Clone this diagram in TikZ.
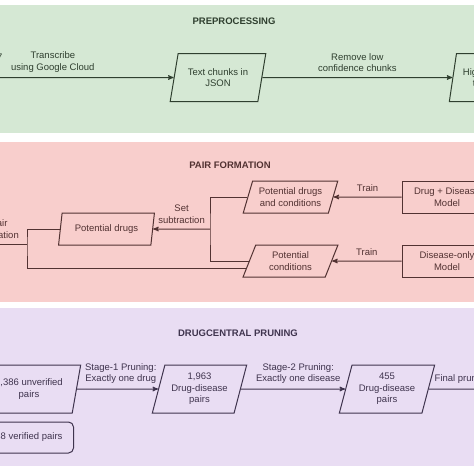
\documentclass[tikz,border=0pt]{standalone}
\usepackage{fontspec}
\setmainfont{Liberation Sans}
\usetikzlibrary{shapes, arrows, calc}

\definecolor{prefill}{HTML}{D5E8D4}
\definecolor{preline}{HTML}{2F3F2F}
\definecolor{pairfill}{HTML}{F8CECC}
\definecolor{pairline}{HTML}{523232}
\definecolor{prunefill}{HTML}{E9DDF3}
\definecolor{pruneline}{HTML}{3F344E}

\begin{document}
\begin{tikzpicture}[x=1pt, y=-1pt, >=stealth', line width=1pt,
      every node/.style={font=\fontsize{9.5}{11.5}\selectfont},
      para/.style={trapezium, trapezium left angle=72, trapezium right angle=108,
        trapezium stretches=true, draw, align=center, inner sep=0pt,
        minimum width=96pt, minimum height=48pt},
      model/.style={rectangle, draw, align=center, minimum width=90pt, minimum height=32pt},
      title/.style={font=\fontsize{9.5}{11.5}\selectfont\bfseries},
      lbl/.style={align=center, inner xsep=1pt, inner ysep=5pt}]

    \useasboundingbox (0,0) rectangle (474,474);
    \clip (0,0) rectangle (474,474);

    % panels
    \fill[prefill] (-10,5) rectangle (484,133);
    \fill[pairfill] (-10,142) rectangle (484,302);
    \fill[prunefill] (-10,308) rectangle (484,466);

    % preprocessing
    \begin{scope}[color=preline]
        \node[title] (pretitle) at (234,21) {PREPROCESSING};
        \node (leftcut) [anchor=east, inner sep=0pt] at (3,57) {7};
        \coordinate (audio) at (-68,77.5);
        \node[para] (chunks) at (218,77.5) {Text chunks in\\JSON};
        \node[para] (highconf) at (497,77.5) {High confidence\\text chunks};

        \path[->]
            (audio) edge node [lbl, above] {Transcribe\\using Google Cloud} (chunks)
            (chunks) edge node [lbl, above] {Remove low\\confidence chunks} (highconf)
        ;
    \end{scope}

    % pair formation
    \begin{scope}[color=pairline]
        \node[title] (pairtitle) at (230,165) {PAIR FORMATION};
        \node[model] (bothmodel) at (447,197) {Drug + Disease\\Model};
        \node[model] (dismodel) at (447,261) {Disease-only\\Model};
        \node[para, trapezium left angle=67, trapezium right angle=113,
            minimum width=95pt, minimum height=32pt] (drugcond) at (290.5,197) {Potential drugs\\and conditions};
        \node[para, trapezium left angle=67, trapezium right angle=113,
            minimum width=95pt, minimum height=32pt] (cond) at (290.5,261) {Potential\\conditions};
        \node[para, trapezium left angle=74, trapezium right angle=106,
            minimum height=32pt] (drugs) at (106.5,229) {Potential drugs};
        \coordinate (split) at (210,229);
        \coordinate (merge) at (27,244);
        \coordinate (pairs) at (-29,244);
        \coordinate (condlow) at ($(cond.top left corner)!0.72!(cond.bottom left corner)$);

        \path[->]
            (bothmodel) edge node [lbl, above] {Train} (drugcond)
            (dismodel) edge node [lbl, above] {Train} (cond)
            (split) edge node [lbl, above] {Set\\subtraction} (drugs)
            (merge) edge node [lbl, above] {Pair\\formation} (pairs)
        ;
        \draw (drugcond.left side) -| (split) |- (cond.left side);
        \draw (drugs.left side) -| (merge) |- (condlow);
    \end{scope}

    % drugcentral pruning
    \begin{scope}[color=pruneline]
        \node[title] (prunetitle) at (238,333) {DRUGCENTRAL PRUNING};
        \node[para, minimum width=104pt] (unverified) at (29,389) {2,386 unverified\\pairs};
        \node[para, minimum width=95pt] (stageone) at (199.5,389) {1,963\\Drug-disease\\pairs};
        \node[para] (stagetwo) at (387,389) {455\\Drug-disease\\pairs};
        \node[draw, rounded corners=5pt, anchor=east, align=right, minimum height=31pt,
            inner xsep=11pt] (verified) at (74,437.5) {1,548 verified pairs};
        \coordinate (final) at (495.5,389);

        \path[->]
            (unverified) edge node [lbl, above, pos=0.54] {Stage-1 Pruning:\\Exactly one drug} (stageone)
            (stageone) edge node [lbl, above, pos=0.55] {Stage-2 Pruning:\\Exactly one disease} (stagetwo)
            (stagetwo) edge node [lbl, above] {Final pruning} (final)
        ;
    \end{scope}
\end{tikzpicture}
\end{document}
